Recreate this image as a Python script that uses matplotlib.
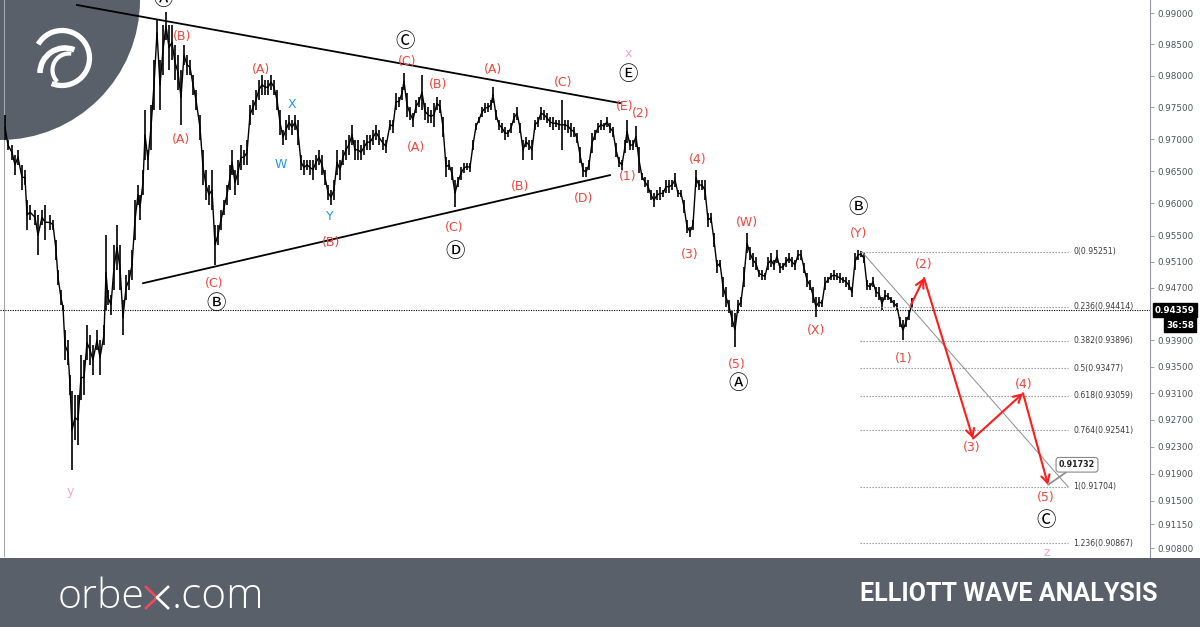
import numpy as np
import matplotlib.pyplot as plt
from matplotlib.patches import Circle, Arc, Rectangle
from matplotlib.ticker import FixedLocator, NullLocator, FuncFormatter

# ---- price bars (hourly) ----
bar_t = [
    5, 8, 12, 15, 18, 22, 25, 27, 30, 35,
    38, 42, 45, 50, 53, 56, 58, 61, 63, 65,
    68, 70, 72, 75, 78, 81, 84, 87, 90, 93,
    97, 100, 104, 106, 108, 111, 114, 117, 120, 123,
    126, 129, 132, 135, 138, 140, 143, 145, 148, 151,
    154, 157, 160, 163, 166, 169, 172, 175, 178, 181,
    184, 187,
    190, 193, 196, 200, 203, 206, 209, 212, 215, 218,
    221, 224, 227, 230, 232, 235, 238, 241, 244, 247,
    250, 253, 256, 259, 262, 265, 268, 271, 274, 277,
    280, 283, 286, 289, 292, 295, 298, 301, 304, 307,
    310, 313, 316, 319, 322, 325, 328, 331, 334, 337,
    340, 343, 346, 349, 352, 355, 358, 361, 364, 367,
    370, 373, 376, 379,
    383, 386, 390, 393, 396, 399, 402, 404, 407, 410,
    413, 416, 419, 422, 425, 428, 431, 434, 437, 440,
    443, 446, 449, 452, 455, 458, 461, 464, 467, 470,
    473, 476, 479, 482, 485, 488, 491, 493, 496, 499,
    502, 505, 508, 511, 514, 517, 520, 523, 526, 529,
    532, 535, 538, 541, 544, 547, 550, 553, 556, 559,
    562, 565, 568,
    571, 574, 577, 580, 583, 586, 589, 592, 595, 598,
    601, 604, 607, 610, 613, 616, 619, 622, 625, 627,
    630, 633, 636, 639, 642, 645, 648, 651, 654, 657,
    660, 663, 666, 669, 672, 675, 678, 681, 684, 687,
    690, 693, 696, 699, 702, 705, 708, 711, 714, 717,
    720, 723, 726, 729, 732, 735, 738, 741, 744, 747,
    750, 753, 756, 759, 762, 765, 768, 771, 774, 777,
    780, 783, 786, 789, 792, 795, 798, 801, 804, 807,
    810, 813, 816, 819, 822, 825, 828, 831, 834, 837,
    840, 843, 846, 849, 852, 855, 858, 861, 864, 867,
    870, 873, 876, 879, 882, 885, 888, 891, 894, 897,
    900, 903, 906, 909, 912,
]
bar_high = [
    .9738, .9699, .9691, .9676, .9684, .9660, .9652, .9605, .9598, .9590,
    .9582, .9590, .9598, .9582, .9575, .9544, .9497, .9466, .9444, .9405,
    .9390, .9338, .9314, .9307, .9307, .9368, .9360, .9413, .9398, .9383,
    .9405, .9390, .9413, .9551, .9466, .9459, .9536, .9567, .9536, .9451,
    .9490, .9497, .9528, .9605, .9629, .9613, .9652, .9746, .9684, .9754,
    .9825, .9889, .9825, .9881, .9902, .9881, .9881, .9849, .9833, .9809,
    .9849, .9833,
    .9825, .9802, .9778, .9738, .9684, .9652, .9629, .9652, .9567, .9567,
    .9590, .9605, .9629, .9660, .9684, .9652, .9668, .9691, .9684, .9699,
    .9754, .9762, .9778, .9794, .9802, .9794, .9794, .9802, .9794, .9778,
    .9746, .9715, .9731, .9738, .9731, .9738, .9731, .9676, .9668, .9668,
    .9668, .9668, .9676, .9684, .9676, .9652, .9629, .9621, .9637, .9684,
    .9668, .9684, .9699, .9707, .9723, .9699, .9699, .9691, .9699, .9707,
    .9707, .9715, .9723, .9715,
    .9704, .9699, .9731, .9731, .9773, .9767, .9783, .9805, .9773, .9751,
    .9741, .9762, .9767, .9802, .9757, .9751, .9746, .9757, .9767, .9762,
    .9735, .9673, .9668, .9657, .9637, .9641, .9657, .9663, .9663, .9663,
    .9699, .9726, .9735, .9751, .9757, .9757, .9762, .9783, .9746, .9731,
    .9726, .9720, .9715, .9726, .9741, .9751, .9726, .9699, .9704, .9699,
    .9699, .9731, .9735, .9751, .9746, .9741, .9735, .9735, .9731, .9731,
    .9762, .9731, .9731,
    .9726, .9720, .9710, .9688, .9663, .9657, .9668, .9710, .9715, .9726,
    .9731, .9726, .9735, .9726, .9720, .9694, .9673, .9668, .9699, .9731,
    .9699, .9699, .9721, .9688, .9647, .9641, .9636, .9621, .9616, .9621,
    .9626, .9621, .9636, .9636, .9636, .9647, .9621, .9621, .9605, .9575,
    .9564, .9575, .9652, .9636, .9636, .9636, .9585, .9585, .9554, .9513,
    .9513, .9487, .9471, .9451, .9435, .9432, .9451, .9456, .9502, .9554,
    .9533, .9523, .9517, .9497, .9497, .9493, .9517, .9523, .9513, .9528,
    .9508, .9508, .9517, .9523, .9517, .9513, .9528, .9528, .9508, .9493,
    .9482, .9471, .9456, .9456, .9451, .9487, .9487, .9493, .9497, .9493,
    .9493, .9487, .9487, .9482, .9471, .9523, .9528, .9526, .9523, .9482,
    .9477, .9487, .9471, .9471, .9456, .9466, .9462, .9456, .9451, .9447,
    .9426, .9421, .9426, .9436, .9454,
]
bar_low = [
    .9699, .9683, .9668, .9644, .9660, .9621, .9629, .9559, .9575, .9567,
    .9520, .9567, .9544, .9559, .9559, .9513, .9474, .9444, .9436, .9360,
    .9353, .9307, .9195, .9240, .9232, .9300, .9307, .9360, .9353, .9338,
    .9375, .9338, .9383, .9436, .9444, .9429, .9466, .9497, .9466, .9398,
    .9451, .9466, .9482, .9544, .9598, .9575, .9613, .9668, .9652, .9684,
    .9746, .9849, .9746, .9802, .9857, .9809, .9825, .9794, .9778, .9723,
    .9817, .9802,
    .9802, .9770, .9746, .9699, .9629, .9605, .9598, .9590, .9505, .9536,
    .9559, .9582, .9598, .9621, .9644, .9613, .9629, .9652, .9660, .9660,
    .9723, .9738, .9746, .9762, .9770, .9770, .9770, .9778, .9770, .9746,
    .9707, .9691, .9699, .9715, .9707, .9715, .9691, .9652, .9644, .9652,
    .9644, .9637, .9652, .9660, .9644, .9629, .9605, .9598, .9605, .9644,
    .9637, .9660, .9668, .9676, .9691, .9668, .9668, .9668, .9676, .9684,
    .9684, .9691, .9699, .9691,
    .9684, .9679, .9715, .9710, .9746, .9751, .9762, .9778, .9735, .9731,
    .9720, .9741, .9751, .9746, .9731, .9726, .9726, .9720, .9746, .9741,
    .9704, .9641, .9652, .9637, .9595, .9626, .9637, .9647, .9652, .9649,
    .9683, .9715, .9726, .9735, .9741, .9743, .9746, .9757, .9731, .9715,
    .9710, .9699, .9704, .9710, .9726, .9731, .9710, .9668, .9688, .9683,
    .9668, .9715, .9720, .9731, .9731, .9726, .9720, .9715, .9720, .9715,
    .9683, .9715, .9710,
    .9704, .9704, .9694, .9663, .9641, .9641, .9652, .9679, .9699, .9710,
    .9715, .9715, .9720, .9710, .9704, .9673, .9657, .9652, .9679, .9694,
    .9683, .9683, .9688, .9647, .9636, .9626, .9616, .9605, .9594, .9605,
    .9605, .9610, .9616, .9616, .9621, .9626, .9610, .9610, .9585, .9554,
    .9548, .9559, .9626, .9621, .9621, .9605, .9564, .9570, .9533, .9493,
    .9502, .9456, .9441, .9432, .9410, .9380, .9432, .9441, .9471, .9523,
    .9513, .9502, .9497, .9487, .9482, .9482, .9497, .9502, .9497, .9508,
    .9493, .9497, .9502, .9508, .9502, .9497, .9513, .9513, .9493, .9471,
    .9466, .9447, .9426, .9441, .9441, .9466, .9477, .9482, .9482, .9482,
    .9477, .9477, .9471, .9466, .9456, .9497, .9513, .9517, .9508, .9466,
    .9466, .9471, .9456, .9451, .9436, .9451, .9451, .9447, .9441, .9436,
    .9410, .9390, .9410, .9421, .9439,
]

# triangle trendlines
upper_t = [77, 620]
upper_p = [0.99128, 0.9757]
lower_t = [143, 610]
lower_p = [0.9477, 0.9644]

last_price = 0.94359
countdown = "36:58"

# fibonacci extension
fib_ratio = ["0", "0.236", "0.382", "0.5", "0.618", "0.764", "1", "1.236"]
fib_price = [0.95251, 0.94414, 0.93896, 0.93477, 0.93059, 0.92541, 0.91704, 0.90867]
fib_t = [860, 1068]
fib_diag_p = [0.95251, 0.91704]
fib_diag_t = [862, 1068]

# projected path
proj_t = [911, 924, 973, 1023, 1048]
proj_p = [0.9444, 0.9485, 0.9242, 0.9310, 0.91732]
target = 0.91732

# wave labels
red_text = ["(B)", "(A)", "(A)", "(C)", "(C)", "(B)", "(A)", "(A)", "(C)", "(E)",
            "(2)", "(1)", "(B)", "(B)", "(D)", "(C)", "(4)", "(3)", "(W)", "(5)",
            "(X)", "(Y)", "(2)", "(1)", "(3)", "(4)", "(5)"]
red_t = [182, 181, 261, 214, 407, 438, 416, 493, 563, 625,
         641, 628, 331, 520, 584, 454, 698, 690, 747, 737,
         816, 859, 924, 904, 972, 1024, 1046]
red_p = [.9863, .9700, .9810, .9477, .9823, .9786, .9687, .9810, .9790, .9752,
         .9741, .9642, .9540, .9627, .9608, .9562, .9669, .9521, .9570, .9353,
         .9405, .9554, .9505, .9362, .9229, .9323, .9155]

blue_text = ["X", "W", "Y"]
blue_t = [292, 281, 330]
blue_p = [.9754, .9661, .9579]

pink_text = ["x", "y", "z"]
pink_t = [628, 70, 1047]
pink_p = [.9836, .9164, .9073]

circ_text = ["Ⓐ", "Ⓒ", "Ⓔ", "Ⓓ", "Ⓑ", "Ⓐ", "Ⓑ", "Ⓒ"]
circ_t = [163, 405, 628, 455, 216, 738, 858, 1046]
circ_p = [.9921, .9855, .9802, .9525, .9446, .9324, .9593, .9120]

axis_ticks = [0.99, 0.985, 0.98, 0.975, 0.97, 0.965, 0.96, 0.955, 0.951, 0.947,
              0.939, 0.935, 0.931, 0.927, 0.923, 0.919, 0.915, 0.9115, 0.908]

assert len(bar_t) == len(bar_high) == len(bar_low)

slate = "#596069"
red = "#f2453d"
W, H = 1200, 627

fig = plt.figure(figsize=(W / 100, H / 100), dpi=100)
fig.patch.set_facecolor("white")

# logo layer (behind chart)
bg = fig.add_axes([0, 0, 1, 1], zorder=0)
bg.set_xlim(0, W)
bg.set_ylim(0, H)
bg.axis("off")
bg.add_patch(Circle((0, H), 140, fc=slate, ec="none"))
bg.add_patch(Arc((62, H - 58), 55, 55, theta1=-112, theta2=150, lw=3.8, color="white"))
bg.add_patch(Arc((65, H - 73), 50, 50, theta1=68, theta2=180, lw=4.0, color="white"))
bg.add_patch(Arc((69, H - 70), 33, 33, theta1=82, theta2=225, lw=3.0, color="white"))

# chart
ax = fig.add_axes([0, 70 / H, 1150 / W, 557 / H], zorder=1)
ax.patch.set_visible(False)
ax.set_yscale("log")
ax.set_xlim(0, 1150)
ax.set_ylim(0.906684, 0.992082)

for s in ["top", "left", "bottom"]:
    ax.spines[s].set_visible(False)
ax.spines["right"].set_color("#9598a1")
ax.spines["right"].set_linewidth(0.8)
ax.set_xticks([])
ax.yaxis.tick_right()
ax.yaxis.set_major_locator(FixedLocator(axis_ticks))
ax.yaxis.set_minor_locator(NullLocator())
ax.yaxis.set_major_formatter(FuncFormatter(lambda v, _: f"{v:.5f}"))
ax.tick_params(axis="y", length=3, width=0.6, color="#8a8e97",
               labelsize=6.3, labelcolor="#50535e", pad=2)

ax.axvline(4, color="#a3a6af", lw=0.8)

hi = np.array(bar_high)
lo = np.array(bar_low)
ax.vlines(bar_t, lo, hi, color="black", lw=1.2)
ax.plot(bar_t, (hi + lo) / 2, color="black", lw=1.0)

ax.plot(upper_t, upper_p, color="black", lw=1.3)
ax.plot(lower_t, lower_p, color="black", lw=1.3)

ax.axhline(last_price, color="black", lw=0.8, ls=(0, (1, 1.2)))
ax.annotate(f"{last_price:.5f}", xy=(1.0, last_price), xycoords=("axes fraction", "data"),
            xytext=(5, 0), textcoords="offset pixels", ha="left", va="center",
            fontsize=6.3, color="white", fontweight="bold",
            bbox=dict(boxstyle="square,pad=0.25", fc="black", ec="black"),
            annotation_clip=False)
ax.annotate(countdown, xy=(1.0, last_price), xycoords=("axes fraction", "data"),
            xytext=(16, -15), textcoords="offset pixels", ha="left", va="center",
            fontsize=6.3, color="white", fontweight="bold",
            bbox=dict(boxstyle="square,pad=0.25", fc="black", ec="black"),
            annotation_clip=False)

# fib levels
ax.hlines(fib_price, fib_t[0], fib_t[1], colors="#8f8f8f", lw=0.8, linestyles=(0, (1.2, 1.5)))
for r, p in zip(fib_ratio, fib_price):
    ax.text(fib_t[1] + 5, p, f"{r}({p:.5f})", fontsize=5.6, va="center", ha="left", color="#3c3c3c")
ax.plot(fib_diag_t, fib_diag_p, color="#8c8c8c", lw=0.7)

# projected wave path
for i in range(len(proj_t) - 1):
    ax.annotate("", xy=(proj_t[i + 1], proj_p[i + 1]), xytext=(proj_t[i], proj_p[i]),
                arrowprops=dict(arrowstyle="->,head_length=0.55,head_width=0.3",
                                color="#ff1c1c", lw=1.5, shrinkA=0, shrinkB=0))

ax.annotate(f"{target:.5f}", xy=(proj_t[-1], target), xytext=(1077, 0.9203),
            ha="center", va="center", fontsize=5.8, fontweight="bold", color="#222",
            bbox=dict(boxstyle="round,pad=0.35", fc="white", ec="#8a8a8a", lw=0.8),
            arrowprops=dict(arrowstyle="-", color="#8a8a8a", lw=1.2, shrinkA=0, shrinkB=0))

for s, t, p in zip(red_text, red_t, red_p):
    ax.text(t, p, s, color=red, fontsize=9, ha="center", va="center")
for s, t, p in zip(blue_text, blue_t, blue_p):
    ax.text(t, p, s, color="#2196f3", fontsize=9, ha="center", va="center")
for s, t, p in zip(pink_text, pink_t, pink_p):
    ax.text(t, p, s, color="#f7a8c4", fontsize=9, ha="center", va="center")
for s, t, p in zip(circ_text, circ_t, circ_p):
    ax.text(t, p, s, color="black", fontsize=14, ha="center", va="center", clip_on=True,
            family=["Noto Sans CJK SC", "DejaVu Sans"])

# bottom banner
bn = fig.add_axes([0, 0, 1, 69 / H], zorder=3)
bn.set_xlim(0, W)
bn.set_ylim(0, 69)
bn.axis("off")
bn.add_patch(Rectangle((0, 0), W, 69, fc=slate, ec="none"))
bn.text(144, 19, "orbe", ha="right", va="baseline", fontsize=29.5,
        family="Open Sans", weight="light", color="white")
bn.text(172, 19, ".com", ha="left", va="baseline", fontsize=30.5,
        family="Open Sans", weight="light", color="white")
bn.plot([146, 157, 146], [40, 29.5, 19], color="#ef4a5a", lw=1.9)
bn.plot([168, 157, 168], [40, 29.5, 19], color="white", lw=1.9)
bn.text(1157, 26, "ELLIOTT WAVE ANALYSIS", ha="right", va="baseline", fontsize=18,
        family="Roboto", weight="bold", color="white")

fig.savefig("out.png", dpi=100)
